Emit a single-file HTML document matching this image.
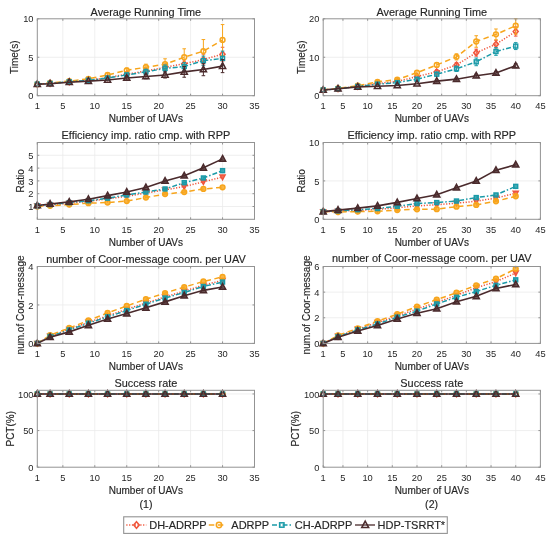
<!DOCTYPE html>
<html><head><meta charset="utf-8"><style>
html,body{margin:0;padding:0;background:#fff;}
body{width:550px;height:541px;overflow:hidden;}
svg{display:block;font-family:"Liberation Sans", sans-serif;filter:blur(0.3px);}
text{stroke:#262626;stroke-width:0.15px;}
text.t{stroke:none;}
</style></head><body>
<svg width="550" height="541" viewBox="0 0 550 541">
<rect width="550" height="541" fill="#fff"/>
<path d="M62.85 18.8V95.7M94.79 18.8V95.7M126.74 18.8V95.7M158.68 18.8V95.7M190.62 18.8V95.7M222.56 18.8V95.7M37.3 57.25H254.5" stroke="#ebebeb" stroke-width="0.8" fill="none"/>
<polyline points="37.3,84.17 50.08,83.4 69.24,81.86 88.41,80.32 107.57,77.63 126.74,74.17 145.9,71.09 165.06,67.25 184.23,63.79 203.39,59.56 222.56,54.17" fill="none" stroke="#f0553b" stroke-width="1.5" stroke-dasharray="1.2 1.6"/>
<path d="M126.74 72.25V76.09M124.94 72.25h3.6M124.94 76.09h3.6M145.9 68.78V73.4M144.1 68.78h3.6M144.1 73.4h3.6M165.06 64.17V70.32M163.26 64.17h3.6M163.26 70.32h3.6M184.23 59.94V67.63M182.43 59.94h3.6M182.43 67.63h3.6M203.39 54.17V64.94M201.59 54.17h3.6M201.59 64.94h3.6M222.56 47.25V61.09M220.76 47.25h3.6M220.76 61.09h3.6" stroke="#f0553b" stroke-width="1" fill="none"/>
<path d="M37.3 81.27L39.8 84.17L37.3 87.07L34.8 84.17Z" fill="none" stroke="#f0553b" stroke-width="1.5"/>
<path d="M50.08 80.5L52.58 83.4L50.08 86.3L47.58 83.4Z" fill="none" stroke="#f0553b" stroke-width="1.5"/>
<path d="M69.24 78.96L71.74 81.86L69.24 84.76L66.74 81.86Z" fill="none" stroke="#f0553b" stroke-width="1.5"/>
<path d="M88.41 77.42L90.91 80.32L88.41 83.22L85.91 80.32Z" fill="none" stroke="#f0553b" stroke-width="1.5"/>
<path d="M107.57 74.73L110.07 77.63L107.57 80.53L105.07 77.63Z" fill="none" stroke="#f0553b" stroke-width="1.5"/>
<path d="M126.74 71.27L129.24 74.17L126.74 77.07L124.24 74.17Z" fill="none" stroke="#f0553b" stroke-width="1.5"/>
<path d="M145.9 68.19L148.4 71.09L145.9 73.99L143.4 71.09Z" fill="none" stroke="#f0553b" stroke-width="1.5"/>
<path d="M165.06 64.35L167.56 67.25L165.06 70.15L162.56 67.25Z" fill="none" stroke="#f0553b" stroke-width="1.5"/>
<path d="M184.23 60.89L186.73 63.79L184.23 66.69L181.73 63.79Z" fill="none" stroke="#f0553b" stroke-width="1.5"/>
<path d="M203.39 56.66L205.89 59.56L203.39 62.46L200.89 59.56Z" fill="none" stroke="#f0553b" stroke-width="1.5"/>
<path d="M222.56 51.27L225.06 54.17L222.56 57.07L220.06 54.17Z" fill="none" stroke="#f0553b" stroke-width="1.5"/>
<polyline points="37.3,84.17 50.08,83.01 69.24,81.09 88.41,78.78 107.57,74.94 126.74,70.32 145.9,67.25 165.06,64.17 184.23,57.25 203.39,51.1 222.56,39.95" fill="none" stroke="#f7a51c" stroke-width="1.5" stroke-dasharray="5.5 3.5"/>
<path d="M107.57 73.01V76.86M105.77 73.01h3.6M105.77 76.86h3.6M126.74 68.02V72.63M124.94 68.02h3.6M124.94 72.63h3.6M145.9 64.17V70.32M144.1 64.17h3.6M144.1 70.32h3.6M165.06 58.79V69.55M163.26 58.79h3.6M163.26 69.55h3.6M184.23 48.79V65.71M182.43 48.79h3.6M182.43 65.71h3.6M203.39 39.56V62.63M201.59 39.56h3.6M201.59 62.63h3.6M222.56 24.57V55.33M220.76 24.57h3.6M220.76 55.33h3.6" stroke="#f7a51c" stroke-width="1" fill="none"/>
<circle cx="37.3" cy="84.17" r="2.4" fill="none" stroke="#f7a51c" stroke-width="1.5"/>
<circle cx="50.08" cy="83.01" r="2.4" fill="none" stroke="#f7a51c" stroke-width="1.5"/>
<circle cx="69.24" cy="81.09" r="2.4" fill="none" stroke="#f7a51c" stroke-width="1.5"/>
<circle cx="88.41" cy="78.78" r="2.4" fill="none" stroke="#f7a51c" stroke-width="1.5"/>
<circle cx="107.57" cy="74.94" r="2.4" fill="none" stroke="#f7a51c" stroke-width="1.5"/>
<circle cx="126.74" cy="70.32" r="2.4" fill="none" stroke="#f7a51c" stroke-width="1.5"/>
<circle cx="145.9" cy="67.25" r="2.4" fill="none" stroke="#f7a51c" stroke-width="1.5"/>
<circle cx="165.06" cy="64.17" r="2.4" fill="none" stroke="#f7a51c" stroke-width="1.5"/>
<circle cx="184.23" cy="57.25" r="2.4" fill="none" stroke="#f7a51c" stroke-width="1.5"/>
<circle cx="203.39" cy="51.1" r="2.4" fill="none" stroke="#f7a51c" stroke-width="1.5"/>
<circle cx="222.56" cy="39.95" r="2.4" fill="none" stroke="#f7a51c" stroke-width="1.5"/>
<polyline points="37.3,84.17 50.08,83.4 69.24,81.86 88.41,80.32 107.57,78.01 126.74,74.94 145.9,71.86 165.06,68.4 184.23,66.48 203.39,60.71 222.56,58.4" fill="none" stroke="#1a9aa8" stroke-width="1.5" stroke-dasharray="5 2 1.5 2"/>
<path d="M126.74 73.01V76.86M124.94 73.01h3.6M124.94 76.86h3.6M145.9 69.17V74.55M144.1 69.17h3.6M144.1 74.55h3.6M165.06 64.94V71.86M163.26 64.94h3.6M163.26 71.86h3.6M184.23 62.63V70.32M182.43 62.63h3.6M182.43 70.32h3.6M203.39 56.1V65.32M201.59 56.1h3.6M201.59 65.32h3.6M222.56 51.1V65.71M220.76 51.1h3.6M220.76 65.71h3.6" stroke="#1a9aa8" stroke-width="1" fill="none"/>
<rect x="35.35" y="82.22" width="3.9" height="3.9" fill="none" stroke="#1a9aa8" stroke-width="1.5"/>
<rect x="48.13" y="81.45" width="3.9" height="3.9" fill="none" stroke="#1a9aa8" stroke-width="1.5"/>
<rect x="67.29" y="79.91" width="3.9" height="3.9" fill="none" stroke="#1a9aa8" stroke-width="1.5"/>
<rect x="86.46" y="78.37" width="3.9" height="3.9" fill="none" stroke="#1a9aa8" stroke-width="1.5"/>
<rect x="105.62" y="76.06" width="3.9" height="3.9" fill="none" stroke="#1a9aa8" stroke-width="1.5"/>
<rect x="124.79" y="72.99" width="3.9" height="3.9" fill="none" stroke="#1a9aa8" stroke-width="1.5"/>
<rect x="143.95" y="69.91" width="3.9" height="3.9" fill="none" stroke="#1a9aa8" stroke-width="1.5"/>
<rect x="163.11" y="66.45" width="3.9" height="3.9" fill="none" stroke="#1a9aa8" stroke-width="1.5"/>
<rect x="182.28" y="64.53" width="3.9" height="3.9" fill="none" stroke="#1a9aa8" stroke-width="1.5"/>
<rect x="201.44" y="58.76" width="3.9" height="3.9" fill="none" stroke="#1a9aa8" stroke-width="1.5"/>
<rect x="220.61" y="56.45" width="3.9" height="3.9" fill="none" stroke="#1a9aa8" stroke-width="1.5"/>
<polyline points="37.3,84.17 50.08,83.78 69.24,82.24 88.41,81.09 107.57,79.94 126.74,78.01 145.9,76.47 165.06,74.94 184.23,71.86 203.39,69.55 222.56,66.09" fill="none" stroke="#4a2a2c" stroke-width="1.6"/>
<path d="M126.74 76.09V79.94M124.94 76.09h3.6M124.94 79.94h3.6M145.9 74.17V78.78M144.1 74.17h3.6M144.1 78.78h3.6M165.06 71.86V78.01M163.26 71.86h3.6M163.26 78.01h3.6M184.23 66.48V77.24M182.43 66.48h3.6M182.43 77.24h3.6M203.39 63.4V75.71M201.59 63.4h3.6M201.59 75.71h3.6M222.56 59.56V72.63M220.76 59.56h3.6M220.76 72.63h3.6" stroke="#4a2a2c" stroke-width="1" fill="none"/>
<path d="M37.3 80.77L40.4 86.47L34.2 86.47Z" fill="none" stroke="#4a2a2c" stroke-width="1.5" stroke-linejoin="miter"/>
<path d="M50.08 80.38L53.18 86.08L46.98 86.08Z" fill="none" stroke="#4a2a2c" stroke-width="1.5" stroke-linejoin="miter"/>
<path d="M69.24 78.84L72.34 84.54L66.14 84.54Z" fill="none" stroke="#4a2a2c" stroke-width="1.5" stroke-linejoin="miter"/>
<path d="M88.41 77.69L91.51 83.39L85.31 83.39Z" fill="none" stroke="#4a2a2c" stroke-width="1.5" stroke-linejoin="miter"/>
<path d="M107.57 76.54L110.67 82.24L104.47 82.24Z" fill="none" stroke="#4a2a2c" stroke-width="1.5" stroke-linejoin="miter"/>
<path d="M126.74 74.61L129.84 80.31L123.64 80.31Z" fill="none" stroke="#4a2a2c" stroke-width="1.5" stroke-linejoin="miter"/>
<path d="M145.9 73.07L149 78.77L142.8 78.77Z" fill="none" stroke="#4a2a2c" stroke-width="1.5" stroke-linejoin="miter"/>
<path d="M165.06 71.54L168.16 77.24L161.96 77.24Z" fill="none" stroke="#4a2a2c" stroke-width="1.5" stroke-linejoin="miter"/>
<path d="M184.23 68.46L187.33 74.16L181.13 74.16Z" fill="none" stroke="#4a2a2c" stroke-width="1.5" stroke-linejoin="miter"/>
<path d="M203.39 66.15L206.49 71.85L200.29 71.85Z" fill="none" stroke="#4a2a2c" stroke-width="1.5" stroke-linejoin="miter"/>
<path d="M222.56 62.69L225.66 68.39L219.46 68.39Z" fill="none" stroke="#4a2a2c" stroke-width="1.5" stroke-linejoin="miter"/>
<rect x="37.3" y="18.8" width="217.2" height="76.9" fill="none" stroke="#939393" stroke-width="1.0"/>
<path d="M37.3 95.7v-2M37.3 18.8v2M62.85 95.7v-2M62.85 18.8v2M94.79 95.7v-2M94.79 18.8v2M126.74 95.7v-2M126.74 18.8v2M158.68 95.7v-2M158.68 18.8v2M190.62 95.7v-2M190.62 18.8v2M222.56 95.7v-2M222.56 18.8v2M254.5 95.7v-2M254.5 18.8v2M37.3 95.7h2M254.5 95.7h-2M37.3 57.25h2M254.5 57.25h-2M37.3 18.8h2M254.5 18.8h-2" stroke="#939393" stroke-width="1" fill="none"/>
<text class="t" x="37.3" y="109.3" font-size="9.3" text-anchor="middle" fill="#262626">1</text>
<text class="t" x="62.85" y="109.3" font-size="9.3" text-anchor="middle" fill="#262626">5</text>
<text class="t" x="94.79" y="109.3" font-size="9.3" text-anchor="middle" fill="#262626">10</text>
<text class="t" x="126.74" y="109.3" font-size="9.3" text-anchor="middle" fill="#262626">15</text>
<text class="t" x="158.68" y="109.3" font-size="9.3" text-anchor="middle" fill="#262626">20</text>
<text class="t" x="190.62" y="109.3" font-size="9.3" text-anchor="middle" fill="#262626">25</text>
<text class="t" x="222.56" y="109.3" font-size="9.3" text-anchor="middle" fill="#262626">30</text>
<text class="t" x="254.5" y="109.3" font-size="9.3" text-anchor="middle" fill="#262626">35</text>
<text class="t" x="33.5" y="99.3" font-size="9.3" text-anchor="end" fill="#262626">0</text>
<text class="t" x="33.5" y="60.85" font-size="9.3" text-anchor="end" fill="#262626">5</text>
<text class="t" x="33.5" y="22.4" font-size="9.3" text-anchor="end" fill="#262626">10</text>
<text x="145.9" y="15.6" font-size="10.9" text-anchor="middle" fill="#262626">Average Running Time</text>
<text x="145.9" y="122.3" font-size="10" text-anchor="middle" fill="#262626">Number of UAVs</text>
<text x="18.4" y="57.25" font-size="10" text-anchor="middle" fill="#262626" transform="rotate(-90 18.4 57.25)">Time(s)</text>
<path d="M342.95 18.8V95.7M367.63 18.8V95.7M392.31 18.8V95.7M416.99 18.8V95.7M441.67 18.8V95.7M466.35 18.8V95.7M491.04 18.8V95.7M515.72 18.8V95.7M323.2 57.25H540.4" stroke="#ebebeb" stroke-width="0.8" fill="none"/>
<polyline points="323.2,89.93 338.01,88.78 357.75,86.47 377.5,83.4 397.25,81.47 416.99,76.47 436.74,71.86 456.48,64.94 476.23,52.64 495.97,44.18 515.72,31.49" fill="none" stroke="#f0553b" stroke-width="1.5" stroke-dasharray="1.2 1.6"/>
<path d="M397.25 80.32V82.63M395.45 80.32h3.6M395.45 82.63h3.6M416.99 74.94V78.01M415.19 74.94h3.6M415.19 78.01h3.6M436.74 69.94V73.78M434.94 69.94h3.6M434.94 73.78h3.6M456.48 62.63V67.25M454.68 62.63h3.6M454.68 67.25h3.6M476.23 49.18V56.1M474.43 49.18h3.6M474.43 56.1h3.6M495.97 40.33V48.02M494.17 40.33h3.6M494.17 48.02h3.6M515.72 26.87V36.1M513.92 26.87h3.6M513.92 36.1h3.6" stroke="#f0553b" stroke-width="1" fill="none"/>
<path d="M323.2 87.03L325.7 89.93L323.2 92.83L320.7 89.93Z" fill="none" stroke="#f0553b" stroke-width="1.5"/>
<path d="M338.01 85.88L340.51 88.78L338.01 91.68L335.51 88.78Z" fill="none" stroke="#f0553b" stroke-width="1.5"/>
<path d="M357.75 83.57L360.25 86.47L357.75 89.37L355.25 86.47Z" fill="none" stroke="#f0553b" stroke-width="1.5"/>
<path d="M377.5 80.5L380 83.4L377.5 86.3L375 83.4Z" fill="none" stroke="#f0553b" stroke-width="1.5"/>
<path d="M397.25 78.57L399.75 81.47L397.25 84.37L394.75 81.47Z" fill="none" stroke="#f0553b" stroke-width="1.5"/>
<path d="M416.99 73.57L419.49 76.47L416.99 79.38L414.49 76.47Z" fill="none" stroke="#f0553b" stroke-width="1.5"/>
<path d="M436.74 68.96L439.24 71.86L436.74 74.76L434.24 71.86Z" fill="none" stroke="#f0553b" stroke-width="1.5"/>
<path d="M456.48 62.04L458.98 64.94L456.48 67.84L453.98 64.94Z" fill="none" stroke="#f0553b" stroke-width="1.5"/>
<path d="M476.23 49.74L478.73 52.64L476.23 55.54L473.73 52.64Z" fill="none" stroke="#f0553b" stroke-width="1.5"/>
<path d="M495.97 41.28L498.47 44.18L495.97 47.08L493.47 44.18Z" fill="none" stroke="#f0553b" stroke-width="1.5"/>
<path d="M515.72 28.59L518.22 31.49L515.72 34.39L513.22 31.49Z" fill="none" stroke="#f0553b" stroke-width="1.5"/>
<polyline points="323.2,89.93 338.01,88.39 357.75,85.7 377.5,81.86 397.25,79.55 416.99,72.63 436.74,64.94 456.48,56.87 476.23,41.49 495.97,34.37 515.72,25.72" fill="none" stroke="#f7a51c" stroke-width="1.5" stroke-dasharray="5.5 3.5"/>
<path d="M377.5 80.7V83.01M375.7 80.7h3.6M375.7 83.01h3.6M397.25 78.01V81.09M395.45 78.01h3.6M395.45 81.09h3.6M416.99 70.71V74.55M415.19 70.71h3.6M415.19 74.55h3.6M436.74 62.63V67.25M434.94 62.63h3.6M434.94 67.25h3.6M456.48 53.79V59.94M454.68 53.79h3.6M454.68 59.94h3.6M476.23 35.72V47.25M474.43 35.72h3.6M474.43 47.25h3.6M495.97 28.99V39.76M494.17 28.99h3.6M494.17 39.76h3.6M515.72 18.8V34.18M513.92 18.8h3.6M513.92 34.18h3.6" stroke="#f7a51c" stroke-width="1" fill="none"/>
<circle cx="323.2" cy="89.93" r="2.4" fill="none" stroke="#f7a51c" stroke-width="1.5"/>
<circle cx="338.01" cy="88.39" r="2.4" fill="none" stroke="#f7a51c" stroke-width="1.5"/>
<circle cx="357.75" cy="85.7" r="2.4" fill="none" stroke="#f7a51c" stroke-width="1.5"/>
<circle cx="377.5" cy="81.86" r="2.4" fill="none" stroke="#f7a51c" stroke-width="1.5"/>
<circle cx="397.25" cy="79.55" r="2.4" fill="none" stroke="#f7a51c" stroke-width="1.5"/>
<circle cx="416.99" cy="72.63" r="2.4" fill="none" stroke="#f7a51c" stroke-width="1.5"/>
<circle cx="436.74" cy="64.94" r="2.4" fill="none" stroke="#f7a51c" stroke-width="1.5"/>
<circle cx="456.48" cy="56.87" r="2.4" fill="none" stroke="#f7a51c" stroke-width="1.5"/>
<circle cx="476.23" cy="41.49" r="2.4" fill="none" stroke="#f7a51c" stroke-width="1.5"/>
<circle cx="495.97" cy="34.37" r="2.4" fill="none" stroke="#f7a51c" stroke-width="1.5"/>
<circle cx="515.72" cy="25.72" r="2.4" fill="none" stroke="#f7a51c" stroke-width="1.5"/>
<polyline points="323.2,89.93 338.01,88.78 357.75,86.47 377.5,84.17 397.25,82.63 416.99,79.17 436.74,74.17 456.48,68.78 476.23,61.86 495.97,51.48 515.72,46.1" fill="none" stroke="#1a9aa8" stroke-width="1.5" stroke-dasharray="5 2 1.5 2"/>
<path d="M397.25 81.47V83.78M395.45 81.47h3.6M395.45 83.78h3.6M416.99 77.63V80.7M415.19 77.63h3.6M415.19 80.7h3.6M436.74 72.25V76.09M434.94 72.25h3.6M434.94 76.09h3.6M456.48 66.09V71.48M454.68 66.09h3.6M454.68 71.48h3.6M476.23 58.02V65.71M474.43 58.02h3.6M474.43 65.71h3.6M495.97 47.64V55.33M494.17 47.64h3.6M494.17 55.33h3.6M515.72 42.64V49.56M513.92 42.64h3.6M513.92 49.56h3.6" stroke="#1a9aa8" stroke-width="1" fill="none"/>
<rect x="321.25" y="87.98" width="3.9" height="3.9" fill="none" stroke="#1a9aa8" stroke-width="1.5"/>
<rect x="336.06" y="86.83" width="3.9" height="3.9" fill="none" stroke="#1a9aa8" stroke-width="1.5"/>
<rect x="355.8" y="84.52" width="3.9" height="3.9" fill="none" stroke="#1a9aa8" stroke-width="1.5"/>
<rect x="375.55" y="82.22" width="3.9" height="3.9" fill="none" stroke="#1a9aa8" stroke-width="1.5"/>
<rect x="395.3" y="80.68" width="3.9" height="3.9" fill="none" stroke="#1a9aa8" stroke-width="1.5"/>
<rect x="415.04" y="77.22" width="3.9" height="3.9" fill="none" stroke="#1a9aa8" stroke-width="1.5"/>
<rect x="434.79" y="72.22" width="3.9" height="3.9" fill="none" stroke="#1a9aa8" stroke-width="1.5"/>
<rect x="454.53" y="66.83" width="3.9" height="3.9" fill="none" stroke="#1a9aa8" stroke-width="1.5"/>
<rect x="474.28" y="59.91" width="3.9" height="3.9" fill="none" stroke="#1a9aa8" stroke-width="1.5"/>
<rect x="494.02" y="49.53" width="3.9" height="3.9" fill="none" stroke="#1a9aa8" stroke-width="1.5"/>
<rect x="513.77" y="44.15" width="3.9" height="3.9" fill="none" stroke="#1a9aa8" stroke-width="1.5"/>
<polyline points="323.2,89.93 338.01,88.78 357.75,86.86 377.5,86.28 397.25,85.51 416.99,83.78 436.74,81.09 456.48,79.17 476.23,75.71 495.97,73.01 515.72,65.71" fill="none" stroke="#4a2a2c" stroke-width="1.6"/>
<path d="M436.74 79.94V82.24M434.94 79.94h3.6M434.94 82.24h3.6M456.48 78.01V80.32M454.68 78.01h3.6M454.68 80.32h3.6M476.23 74.17V77.24M474.43 74.17h3.6M474.43 77.24h3.6M495.97 71.48V74.55M494.17 71.48h3.6M494.17 74.55h3.6M515.72 63.79V67.63M513.92 63.79h3.6M513.92 67.63h3.6" stroke="#4a2a2c" stroke-width="1" fill="none"/>
<path d="M323.2 86.53L326.3 92.23L320.1 92.23Z" fill="none" stroke="#4a2a2c" stroke-width="1.5" stroke-linejoin="miter"/>
<path d="M338.01 85.38L341.11 91.08L334.91 91.08Z" fill="none" stroke="#4a2a2c" stroke-width="1.5" stroke-linejoin="miter"/>
<path d="M357.75 83.46L360.85 89.16L354.65 89.16Z" fill="none" stroke="#4a2a2c" stroke-width="1.5" stroke-linejoin="miter"/>
<path d="M377.5 82.88L380.6 88.58L374.4 88.58Z" fill="none" stroke="#4a2a2c" stroke-width="1.5" stroke-linejoin="miter"/>
<path d="M397.25 82.11L400.35 87.81L394.15 87.81Z" fill="none" stroke="#4a2a2c" stroke-width="1.5" stroke-linejoin="miter"/>
<path d="M416.99 80.38L420.09 86.08L413.89 86.08Z" fill="none" stroke="#4a2a2c" stroke-width="1.5" stroke-linejoin="miter"/>
<path d="M436.74 77.69L439.84 83.39L433.64 83.39Z" fill="none" stroke="#4a2a2c" stroke-width="1.5" stroke-linejoin="miter"/>
<path d="M456.48 75.77L459.58 81.47L453.38 81.47Z" fill="none" stroke="#4a2a2c" stroke-width="1.5" stroke-linejoin="miter"/>
<path d="M476.23 72.31L479.33 78.01L473.13 78.01Z" fill="none" stroke="#4a2a2c" stroke-width="1.5" stroke-linejoin="miter"/>
<path d="M495.97 69.61L499.07 75.31L492.87 75.31Z" fill="none" stroke="#4a2a2c" stroke-width="1.5" stroke-linejoin="miter"/>
<path d="M515.72 62.31L518.82 68.01L512.62 68.01Z" fill="none" stroke="#4a2a2c" stroke-width="1.5" stroke-linejoin="miter"/>
<rect x="323.2" y="18.8" width="217.2" height="76.9" fill="none" stroke="#939393" stroke-width="1.0"/>
<path d="M323.2 95.7v-2M323.2 18.8v2M342.95 95.7v-2M342.95 18.8v2M367.63 95.7v-2M367.63 18.8v2M392.31 95.7v-2M392.31 18.8v2M416.99 95.7v-2M416.99 18.8v2M441.67 95.7v-2M441.67 18.8v2M466.35 95.7v-2M466.35 18.8v2M491.04 95.7v-2M491.04 18.8v2M515.72 95.7v-2M515.72 18.8v2M540.4 95.7v-2M540.4 18.8v2M323.2 95.7h2M540.4 95.7h-2M323.2 57.25h2M540.4 57.25h-2M323.2 18.8h2M540.4 18.8h-2" stroke="#939393" stroke-width="1" fill="none"/>
<text class="t" x="323.2" y="109.3" font-size="9.3" text-anchor="middle" fill="#262626">1</text>
<text class="t" x="342.95" y="109.3" font-size="9.3" text-anchor="middle" fill="#262626">5</text>
<text class="t" x="367.63" y="109.3" font-size="9.3" text-anchor="middle" fill="#262626">10</text>
<text class="t" x="392.31" y="109.3" font-size="9.3" text-anchor="middle" fill="#262626">15</text>
<text class="t" x="416.99" y="109.3" font-size="9.3" text-anchor="middle" fill="#262626">20</text>
<text class="t" x="441.67" y="109.3" font-size="9.3" text-anchor="middle" fill="#262626">25</text>
<text class="t" x="466.35" y="109.3" font-size="9.3" text-anchor="middle" fill="#262626">30</text>
<text class="t" x="491.04" y="109.3" font-size="9.3" text-anchor="middle" fill="#262626">35</text>
<text class="t" x="515.72" y="109.3" font-size="9.3" text-anchor="middle" fill="#262626">40</text>
<text class="t" x="540.4" y="109.3" font-size="9.3" text-anchor="middle" fill="#262626">45</text>
<text class="t" x="319.4" y="99.3" font-size="9.3" text-anchor="end" fill="#262626">0</text>
<text class="t" x="319.4" y="60.85" font-size="9.3" text-anchor="end" fill="#262626">10</text>
<text class="t" x="319.4" y="22.4" font-size="9.3" text-anchor="end" fill="#262626">20</text>
<text x="431.8" y="15.6" font-size="10.9" text-anchor="middle" fill="#262626">Average Running Time</text>
<text x="431.8" y="122.3" font-size="10" text-anchor="middle" fill="#262626">Number of UAVs</text>
<text x="304.6" y="57.25" font-size="10" text-anchor="middle" fill="#262626" transform="rotate(-90 304.6 57.25)">Time(s)</text>
<path d="M62.85 142.5V219.3M94.79 142.5V219.3M126.74 142.5V219.3M158.68 142.5V219.3M190.62 142.5V219.3M222.56 142.5V219.3M37.3 206.5H254.5M37.3 193.7H254.5M37.3 180.9H254.5M37.3 168.1H254.5M37.3 155.3H254.5" stroke="#ebebeb" stroke-width="0.8" fill="none"/>
<polyline points="37.3,205.86 50.08,204.96 69.24,203.3 88.41,201.38 107.57,198.82 126.74,196.26 145.9,193.06 165.06,189.86 184.23,186.53 203.39,181.8 222.56,177.06" fill="none" stroke="#f0553b" stroke-width="1.5" stroke-dasharray="1.2 1.6"/>
<path d="M37.3 208.46L39.8 203.91L34.8 203.91Z" fill="#f0553b" fill-opacity="0.8" stroke="#f0553b" stroke-width="1.5"/>
<path d="M50.08 207.56L52.58 203.01L47.58 203.01Z" fill="#f0553b" fill-opacity="0.8" stroke="#f0553b" stroke-width="1.5"/>
<path d="M69.24 205.9L71.74 201.35L66.74 201.35Z" fill="#f0553b" fill-opacity="0.8" stroke="#f0553b" stroke-width="1.5"/>
<path d="M88.41 203.98L90.91 199.43L85.91 199.43Z" fill="#f0553b" fill-opacity="0.8" stroke="#f0553b" stroke-width="1.5"/>
<path d="M107.57 201.42L110.07 196.87L105.07 196.87Z" fill="#f0553b" fill-opacity="0.8" stroke="#f0553b" stroke-width="1.5"/>
<path d="M126.74 198.86L129.24 194.31L124.24 194.31Z" fill="#f0553b" fill-opacity="0.8" stroke="#f0553b" stroke-width="1.5"/>
<path d="M145.9 195.66L148.4 191.11L143.4 191.11Z" fill="#f0553b" fill-opacity="0.8" stroke="#f0553b" stroke-width="1.5"/>
<path d="M165.06 192.46L167.56 187.91L162.56 187.91Z" fill="#f0553b" fill-opacity="0.8" stroke="#f0553b" stroke-width="1.5"/>
<path d="M184.23 189.13L186.73 184.58L181.73 184.58Z" fill="#f0553b" fill-opacity="0.8" stroke="#f0553b" stroke-width="1.5"/>
<path d="M203.39 184.4L205.89 179.85L200.89 179.85Z" fill="#f0553b" fill-opacity="0.8" stroke="#f0553b" stroke-width="1.5"/>
<path d="M222.56 179.66L225.06 175.11L220.06 175.11Z" fill="#f0553b" fill-opacity="0.8" stroke="#f0553b" stroke-width="1.5"/>
<polyline points="37.3,206.5 50.08,205.86 69.24,204.58 88.41,203.17 107.57,202.53 126.74,201.12 145.9,197.54 165.06,194.08 184.23,192.04 203.39,188.96 222.56,187.3" fill="none" stroke="#f7a51c" stroke-width="1.5" stroke-dasharray="5.5 3.5"/>
<circle cx="37.3" cy="206.5" r="2.4" fill="#f7a51c" fill-opacity="0.8" stroke="#f7a51c" stroke-width="1.5"/>
<circle cx="50.08" cy="205.86" r="2.4" fill="#f7a51c" fill-opacity="0.8" stroke="#f7a51c" stroke-width="1.5"/>
<circle cx="69.24" cy="204.58" r="2.4" fill="#f7a51c" fill-opacity="0.8" stroke="#f7a51c" stroke-width="1.5"/>
<circle cx="88.41" cy="203.17" r="2.4" fill="#f7a51c" fill-opacity="0.8" stroke="#f7a51c" stroke-width="1.5"/>
<circle cx="107.57" cy="202.53" r="2.4" fill="#f7a51c" fill-opacity="0.8" stroke="#f7a51c" stroke-width="1.5"/>
<circle cx="126.74" cy="201.12" r="2.4" fill="#f7a51c" fill-opacity="0.8" stroke="#f7a51c" stroke-width="1.5"/>
<circle cx="145.9" cy="197.54" r="2.4" fill="#f7a51c" fill-opacity="0.8" stroke="#f7a51c" stroke-width="1.5"/>
<circle cx="165.06" cy="194.08" r="2.4" fill="#f7a51c" fill-opacity="0.8" stroke="#f7a51c" stroke-width="1.5"/>
<circle cx="184.23" cy="192.04" r="2.4" fill="#f7a51c" fill-opacity="0.8" stroke="#f7a51c" stroke-width="1.5"/>
<circle cx="203.39" cy="188.96" r="2.4" fill="#f7a51c" fill-opacity="0.8" stroke="#f7a51c" stroke-width="1.5"/>
<circle cx="222.56" cy="187.3" r="2.4" fill="#f7a51c" fill-opacity="0.8" stroke="#f7a51c" stroke-width="1.5"/>
<polyline points="37.3,205.86 50.08,204.58 69.24,202.66 88.41,200.74 107.57,198.18 126.74,194.98 145.9,192.04 165.06,188.96 184.23,182.69 203.39,177.96 222.56,170.66" fill="none" stroke="#1a9aa8" stroke-width="1.5" stroke-dasharray="5 2 1.5 2"/>
<rect x="35.35" y="203.91" width="3.9" height="3.9" fill="#1a9aa8" fill-opacity="0.8" stroke="#1a9aa8" stroke-width="1.5"/>
<rect x="48.13" y="202.63" width="3.9" height="3.9" fill="#1a9aa8" fill-opacity="0.8" stroke="#1a9aa8" stroke-width="1.5"/>
<rect x="67.29" y="200.71" width="3.9" height="3.9" fill="#1a9aa8" fill-opacity="0.8" stroke="#1a9aa8" stroke-width="1.5"/>
<rect x="86.46" y="198.79" width="3.9" height="3.9" fill="#1a9aa8" fill-opacity="0.8" stroke="#1a9aa8" stroke-width="1.5"/>
<rect x="105.62" y="196.23" width="3.9" height="3.9" fill="#1a9aa8" fill-opacity="0.8" stroke="#1a9aa8" stroke-width="1.5"/>
<rect x="124.79" y="193.03" width="3.9" height="3.9" fill="#1a9aa8" fill-opacity="0.8" stroke="#1a9aa8" stroke-width="1.5"/>
<rect x="143.95" y="190.09" width="3.9" height="3.9" fill="#1a9aa8" fill-opacity="0.8" stroke="#1a9aa8" stroke-width="1.5"/>
<rect x="163.11" y="187.01" width="3.9" height="3.9" fill="#1a9aa8" fill-opacity="0.8" stroke="#1a9aa8" stroke-width="1.5"/>
<rect x="182.28" y="180.74" width="3.9" height="3.9" fill="#1a9aa8" fill-opacity="0.8" stroke="#1a9aa8" stroke-width="1.5"/>
<rect x="201.44" y="176.01" width="3.9" height="3.9" fill="#1a9aa8" fill-opacity="0.8" stroke="#1a9aa8" stroke-width="1.5"/>
<rect x="220.61" y="168.71" width="3.9" height="3.9" fill="#1a9aa8" fill-opacity="0.8" stroke="#1a9aa8" stroke-width="1.5"/>
<polyline points="37.3,205.48 50.08,203.94 69.24,201.89 88.41,199.2 107.57,195.62 126.74,192.04 145.9,187.56 165.06,180.9 184.23,175.78 203.39,167.84 222.56,158.88" fill="none" stroke="#4a2a2c" stroke-width="1.6"/>
<path d="M37.3 202.08L40.4 207.78L34.2 207.78Z" fill="#4a2a2c" fill-opacity="0.8" stroke="#4a2a2c" stroke-width="1.5" stroke-linejoin="miter"/>
<path d="M50.08 200.54L53.18 206.24L46.98 206.24Z" fill="#4a2a2c" fill-opacity="0.8" stroke="#4a2a2c" stroke-width="1.5" stroke-linejoin="miter"/>
<path d="M69.24 198.49L72.34 204.19L66.14 204.19Z" fill="#4a2a2c" fill-opacity="0.8" stroke="#4a2a2c" stroke-width="1.5" stroke-linejoin="miter"/>
<path d="M88.41 195.8L91.51 201.5L85.31 201.5Z" fill="#4a2a2c" fill-opacity="0.8" stroke="#4a2a2c" stroke-width="1.5" stroke-linejoin="miter"/>
<path d="M107.57 192.22L110.67 197.92L104.47 197.92Z" fill="#4a2a2c" fill-opacity="0.8" stroke="#4a2a2c" stroke-width="1.5" stroke-linejoin="miter"/>
<path d="M126.74 188.64L129.84 194.34L123.64 194.34Z" fill="#4a2a2c" fill-opacity="0.8" stroke="#4a2a2c" stroke-width="1.5" stroke-linejoin="miter"/>
<path d="M145.9 184.16L149 189.86L142.8 189.86Z" fill="#4a2a2c" fill-opacity="0.8" stroke="#4a2a2c" stroke-width="1.5" stroke-linejoin="miter"/>
<path d="M165.06 177.5L168.16 183.2L161.96 183.2Z" fill="#4a2a2c" fill-opacity="0.8" stroke="#4a2a2c" stroke-width="1.5" stroke-linejoin="miter"/>
<path d="M184.23 172.38L187.33 178.08L181.13 178.08Z" fill="#4a2a2c" fill-opacity="0.8" stroke="#4a2a2c" stroke-width="1.5" stroke-linejoin="miter"/>
<path d="M203.39 164.44L206.49 170.14L200.29 170.14Z" fill="#4a2a2c" fill-opacity="0.8" stroke="#4a2a2c" stroke-width="1.5" stroke-linejoin="miter"/>
<path d="M222.56 155.48L225.66 161.18L219.46 161.18Z" fill="#4a2a2c" fill-opacity="0.8" stroke="#4a2a2c" stroke-width="1.5" stroke-linejoin="miter"/>
<rect x="37.3" y="142.5" width="217.2" height="76.8" fill="none" stroke="#939393" stroke-width="1.0"/>
<path d="M37.3 219.3v-2M37.3 142.5v2M62.85 219.3v-2M62.85 142.5v2M94.79 219.3v-2M94.79 142.5v2M126.74 219.3v-2M126.74 142.5v2M158.68 219.3v-2M158.68 142.5v2M190.62 219.3v-2M190.62 142.5v2M222.56 219.3v-2M222.56 142.5v2M254.5 219.3v-2M254.5 142.5v2M37.3 206.5h2M254.5 206.5h-2M37.3 193.7h2M254.5 193.7h-2M37.3 180.9h2M254.5 180.9h-2M37.3 168.1h2M254.5 168.1h-2M37.3 155.3h2M254.5 155.3h-2" stroke="#939393" stroke-width="1" fill="none"/>
<text class="t" x="37.3" y="232.9" font-size="9.3" text-anchor="middle" fill="#262626">1</text>
<text class="t" x="62.85" y="232.9" font-size="9.3" text-anchor="middle" fill="#262626">5</text>
<text class="t" x="94.79" y="232.9" font-size="9.3" text-anchor="middle" fill="#262626">10</text>
<text class="t" x="126.74" y="232.9" font-size="9.3" text-anchor="middle" fill="#262626">15</text>
<text class="t" x="158.68" y="232.9" font-size="9.3" text-anchor="middle" fill="#262626">20</text>
<text class="t" x="190.62" y="232.9" font-size="9.3" text-anchor="middle" fill="#262626">25</text>
<text class="t" x="222.56" y="232.9" font-size="9.3" text-anchor="middle" fill="#262626">30</text>
<text class="t" x="254.5" y="232.9" font-size="9.3" text-anchor="middle" fill="#262626">35</text>
<text class="t" x="33.5" y="210.1" font-size="9.3" text-anchor="end" fill="#262626">1</text>
<text class="t" x="33.5" y="197.3" font-size="9.3" text-anchor="end" fill="#262626">2</text>
<text class="t" x="33.5" y="184.5" font-size="9.3" text-anchor="end" fill="#262626">3</text>
<text class="t" x="33.5" y="171.7" font-size="9.3" text-anchor="end" fill="#262626">4</text>
<text class="t" x="33.5" y="158.9" font-size="9.3" text-anchor="end" fill="#262626">5</text>
<text x="145.9" y="139.3" font-size="10.9" text-anchor="middle" fill="#262626">Efficiency imp. ratio cmp. with RPP</text>
<text x="145.9" y="245.9" font-size="10" text-anchor="middle" fill="#262626">Number of UAVs</text>
<text x="24" y="180.9" font-size="10" text-anchor="middle" fill="#262626" transform="rotate(-90 24 180.9)">Ratio</text>
<path d="M342.95 142.5V219.3M367.63 142.5V219.3M392.31 142.5V219.3M416.99 142.5V219.3M441.67 142.5V219.3M466.35 142.5V219.3M491.04 142.5V219.3M515.72 142.5V219.3M323.2 180.9H540.4" stroke="#ebebeb" stroke-width="0.8" fill="none"/>
<polyline points="323.2,211.62 338.01,211.24 357.75,210.47 377.5,209.32 397.25,207.78 416.99,205.86 436.74,204.71 456.48,203.17 476.23,201.25 495.97,198.03 515.72,193.19" fill="none" stroke="#f0553b" stroke-width="1.5" stroke-dasharray="1.2 1.6"/>
<path d="M323.2 214.22L325.7 209.67L320.7 209.67Z" fill="#f0553b" fill-opacity="0.8" stroke="#f0553b" stroke-width="1.5"/>
<path d="M338.01 213.84L340.51 209.29L335.51 209.29Z" fill="#f0553b" fill-opacity="0.8" stroke="#f0553b" stroke-width="1.5"/>
<path d="M357.75 213.07L360.25 208.52L355.25 208.52Z" fill="#f0553b" fill-opacity="0.8" stroke="#f0553b" stroke-width="1.5"/>
<path d="M377.5 211.92L380 207.37L375 207.37Z" fill="#f0553b" fill-opacity="0.8" stroke="#f0553b" stroke-width="1.5"/>
<path d="M397.25 210.38L399.75 205.83L394.75 205.83Z" fill="#f0553b" fill-opacity="0.8" stroke="#f0553b" stroke-width="1.5"/>
<path d="M416.99 208.46L419.49 203.91L414.49 203.91Z" fill="#f0553b" fill-opacity="0.8" stroke="#f0553b" stroke-width="1.5"/>
<path d="M436.74 207.31L439.24 202.76L434.24 202.76Z" fill="#f0553b" fill-opacity="0.8" stroke="#f0553b" stroke-width="1.5"/>
<path d="M456.48 205.77L458.98 201.22L453.98 201.22Z" fill="#f0553b" fill-opacity="0.8" stroke="#f0553b" stroke-width="1.5"/>
<path d="M476.23 203.85L478.73 199.3L473.73 199.3Z" fill="#f0553b" fill-opacity="0.8" stroke="#f0553b" stroke-width="1.5"/>
<path d="M495.97 200.63L498.47 196.08L493.47 196.08Z" fill="#f0553b" fill-opacity="0.8" stroke="#f0553b" stroke-width="1.5"/>
<path d="M515.72 195.79L518.22 191.24L513.22 191.24Z" fill="#f0553b" fill-opacity="0.8" stroke="#f0553b" stroke-width="1.5"/>
<polyline points="323.2,211.62 338.01,212 357.75,211.62 377.5,211.24 397.25,210.08 416.99,209.32 436.74,209.16 456.48,206.63 476.23,204.94 495.97,201.25 515.72,196.26" fill="none" stroke="#f7a51c" stroke-width="1.5" stroke-dasharray="5.5 3.5"/>
<circle cx="323.2" cy="211.62" r="2.4" fill="#f7a51c" fill-opacity="0.8" stroke="#f7a51c" stroke-width="1.5"/>
<circle cx="338.01" cy="212" r="2.4" fill="#f7a51c" fill-opacity="0.8" stroke="#f7a51c" stroke-width="1.5"/>
<circle cx="357.75" cy="211.62" r="2.4" fill="#f7a51c" fill-opacity="0.8" stroke="#f7a51c" stroke-width="1.5"/>
<circle cx="377.5" cy="211.24" r="2.4" fill="#f7a51c" fill-opacity="0.8" stroke="#f7a51c" stroke-width="1.5"/>
<circle cx="397.25" cy="210.08" r="2.4" fill="#f7a51c" fill-opacity="0.8" stroke="#f7a51c" stroke-width="1.5"/>
<circle cx="416.99" cy="209.32" r="2.4" fill="#f7a51c" fill-opacity="0.8" stroke="#f7a51c" stroke-width="1.5"/>
<circle cx="436.74" cy="209.16" r="2.4" fill="#f7a51c" fill-opacity="0.8" stroke="#f7a51c" stroke-width="1.5"/>
<circle cx="456.48" cy="206.63" r="2.4" fill="#f7a51c" fill-opacity="0.8" stroke="#f7a51c" stroke-width="1.5"/>
<circle cx="476.23" cy="204.94" r="2.4" fill="#f7a51c" fill-opacity="0.8" stroke="#f7a51c" stroke-width="1.5"/>
<circle cx="495.97" cy="201.25" r="2.4" fill="#f7a51c" fill-opacity="0.8" stroke="#f7a51c" stroke-width="1.5"/>
<circle cx="515.72" cy="196.26" r="2.4" fill="#f7a51c" fill-opacity="0.8" stroke="#f7a51c" stroke-width="1.5"/>
<polyline points="323.2,211.62 338.01,210.85 357.75,209.7 377.5,208.55 397.25,206.24 416.99,203.56 436.74,202.56 456.48,201.02 476.23,197.57 495.97,194.95 515.72,186.35" fill="none" stroke="#1a9aa8" stroke-width="1.5" stroke-dasharray="5 2 1.5 2"/>
<rect x="321.25" y="209.67" width="3.9" height="3.9" fill="#1a9aa8" fill-opacity="0.8" stroke="#1a9aa8" stroke-width="1.5"/>
<rect x="336.06" y="208.9" width="3.9" height="3.9" fill="#1a9aa8" fill-opacity="0.8" stroke="#1a9aa8" stroke-width="1.5"/>
<rect x="355.8" y="207.75" width="3.9" height="3.9" fill="#1a9aa8" fill-opacity="0.8" stroke="#1a9aa8" stroke-width="1.5"/>
<rect x="375.55" y="206.6" width="3.9" height="3.9" fill="#1a9aa8" fill-opacity="0.8" stroke="#1a9aa8" stroke-width="1.5"/>
<rect x="395.3" y="204.29" width="3.9" height="3.9" fill="#1a9aa8" fill-opacity="0.8" stroke="#1a9aa8" stroke-width="1.5"/>
<rect x="415.04" y="201.61" width="3.9" height="3.9" fill="#1a9aa8" fill-opacity="0.8" stroke="#1a9aa8" stroke-width="1.5"/>
<rect x="434.79" y="200.61" width="3.9" height="3.9" fill="#1a9aa8" fill-opacity="0.8" stroke="#1a9aa8" stroke-width="1.5"/>
<rect x="454.53" y="199.07" width="3.9" height="3.9" fill="#1a9aa8" fill-opacity="0.8" stroke="#1a9aa8" stroke-width="1.5"/>
<rect x="474.28" y="195.62" width="3.9" height="3.9" fill="#1a9aa8" fill-opacity="0.8" stroke="#1a9aa8" stroke-width="1.5"/>
<rect x="494.02" y="193" width="3.9" height="3.9" fill="#1a9aa8" fill-opacity="0.8" stroke="#1a9aa8" stroke-width="1.5"/>
<rect x="513.77" y="184.4" width="3.9" height="3.9" fill="#1a9aa8" fill-opacity="0.8" stroke="#1a9aa8" stroke-width="1.5"/>
<polyline points="323.2,211.62 338.01,210.08 357.75,208.16 377.5,205.86 397.25,202.4 416.99,198.56 436.74,194.72 456.48,187.81 476.23,180.9 495.97,170.15 515.72,164.77" fill="none" stroke="#4a2a2c" stroke-width="1.6"/>
<path d="M323.2 208.22L326.3 213.92L320.1 213.92Z" fill="#4a2a2c" fill-opacity="0.8" stroke="#4a2a2c" stroke-width="1.5" stroke-linejoin="miter"/>
<path d="M338.01 206.68L341.11 212.38L334.91 212.38Z" fill="#4a2a2c" fill-opacity="0.8" stroke="#4a2a2c" stroke-width="1.5" stroke-linejoin="miter"/>
<path d="M357.75 204.76L360.85 210.46L354.65 210.46Z" fill="#4a2a2c" fill-opacity="0.8" stroke="#4a2a2c" stroke-width="1.5" stroke-linejoin="miter"/>
<path d="M377.5 202.46L380.6 208.16L374.4 208.16Z" fill="#4a2a2c" fill-opacity="0.8" stroke="#4a2a2c" stroke-width="1.5" stroke-linejoin="miter"/>
<path d="M397.25 199L400.35 204.7L394.15 204.7Z" fill="#4a2a2c" fill-opacity="0.8" stroke="#4a2a2c" stroke-width="1.5" stroke-linejoin="miter"/>
<path d="M416.99 195.16L420.09 200.86L413.89 200.86Z" fill="#4a2a2c" fill-opacity="0.8" stroke="#4a2a2c" stroke-width="1.5" stroke-linejoin="miter"/>
<path d="M436.74 191.32L439.84 197.02L433.64 197.02Z" fill="#4a2a2c" fill-opacity="0.8" stroke="#4a2a2c" stroke-width="1.5" stroke-linejoin="miter"/>
<path d="M456.48 184.41L459.58 190.11L453.38 190.11Z" fill="#4a2a2c" fill-opacity="0.8" stroke="#4a2a2c" stroke-width="1.5" stroke-linejoin="miter"/>
<path d="M476.23 177.5L479.33 183.2L473.13 183.2Z" fill="#4a2a2c" fill-opacity="0.8" stroke="#4a2a2c" stroke-width="1.5" stroke-linejoin="miter"/>
<path d="M495.97 166.75L499.07 172.45L492.87 172.45Z" fill="#4a2a2c" fill-opacity="0.8" stroke="#4a2a2c" stroke-width="1.5" stroke-linejoin="miter"/>
<path d="M515.72 161.37L518.82 167.07L512.62 167.07Z" fill="#4a2a2c" fill-opacity="0.8" stroke="#4a2a2c" stroke-width="1.5" stroke-linejoin="miter"/>
<rect x="323.2" y="142.5" width="217.2" height="76.8" fill="none" stroke="#939393" stroke-width="1.0"/>
<path d="M323.2 219.3v-2M323.2 142.5v2M342.95 219.3v-2M342.95 142.5v2M367.63 219.3v-2M367.63 142.5v2M392.31 219.3v-2M392.31 142.5v2M416.99 219.3v-2M416.99 142.5v2M441.67 219.3v-2M441.67 142.5v2M466.35 219.3v-2M466.35 142.5v2M491.04 219.3v-2M491.04 142.5v2M515.72 219.3v-2M515.72 142.5v2M540.4 219.3v-2M540.4 142.5v2M323.2 219.3h2M540.4 219.3h-2M323.2 180.9h2M540.4 180.9h-2M323.2 142.5h2M540.4 142.5h-2" stroke="#939393" stroke-width="1" fill="none"/>
<text class="t" x="323.2" y="232.9" font-size="9.3" text-anchor="middle" fill="#262626">1</text>
<text class="t" x="342.95" y="232.9" font-size="9.3" text-anchor="middle" fill="#262626">5</text>
<text class="t" x="367.63" y="232.9" font-size="9.3" text-anchor="middle" fill="#262626">10</text>
<text class="t" x="392.31" y="232.9" font-size="9.3" text-anchor="middle" fill="#262626">15</text>
<text class="t" x="416.99" y="232.9" font-size="9.3" text-anchor="middle" fill="#262626">20</text>
<text class="t" x="441.67" y="232.9" font-size="9.3" text-anchor="middle" fill="#262626">25</text>
<text class="t" x="466.35" y="232.9" font-size="9.3" text-anchor="middle" fill="#262626">30</text>
<text class="t" x="491.04" y="232.9" font-size="9.3" text-anchor="middle" fill="#262626">35</text>
<text class="t" x="515.72" y="232.9" font-size="9.3" text-anchor="middle" fill="#262626">40</text>
<text class="t" x="540.4" y="232.9" font-size="9.3" text-anchor="middle" fill="#262626">45</text>
<text class="t" x="319.4" y="222.9" font-size="9.3" text-anchor="end" fill="#262626">0</text>
<text class="t" x="319.4" y="184.5" font-size="9.3" text-anchor="end" fill="#262626">5</text>
<text class="t" x="319.4" y="146.1" font-size="9.3" text-anchor="end" fill="#262626">10</text>
<text x="431.8" y="139.3" font-size="10.9" text-anchor="middle" fill="#262626">Efficiency imp. ratio cmp. with RPP</text>
<text x="431.8" y="245.9" font-size="10" text-anchor="middle" fill="#262626">Number of UAVs</text>
<text x="304.6" y="180.9" font-size="10" text-anchor="middle" fill="#262626" transform="rotate(-90 304.6 180.9)">Ratio</text>
<path d="M62.85 266.5V343.4M94.79 266.5V343.4M126.74 266.5V343.4M158.68 266.5V343.4M190.62 266.5V343.4M222.56 266.5V343.4M37.3 304.95H254.5" stroke="#ebebeb" stroke-width="0.8" fill="none"/>
<polyline points="37.3,343.4 50.08,336.09 69.24,329.37 88.41,322.25 107.57,315.91 126.74,309.18 145.9,303.03 165.06,296.88 184.23,291.11 203.39,285.15 222.56,280.34" fill="none" stroke="#f0553b" stroke-width="1.5" stroke-dasharray="1.2 1.6"/>
<path d="M37.3 346L39.8 341.45L34.8 341.45Z" fill="#f0553b" fill-opacity="0.8" stroke="#f0553b" stroke-width="1.5"/>
<path d="M50.08 338.69L52.58 334.14L47.58 334.14Z" fill="#f0553b" fill-opacity="0.8" stroke="#f0553b" stroke-width="1.5"/>
<path d="M69.24 331.97L71.74 327.42L66.74 327.42Z" fill="#f0553b" fill-opacity="0.8" stroke="#f0553b" stroke-width="1.5"/>
<path d="M88.41 324.85L90.91 320.3L85.91 320.3Z" fill="#f0553b" fill-opacity="0.8" stroke="#f0553b" stroke-width="1.5"/>
<path d="M107.57 318.51L110.07 313.96L105.07 313.96Z" fill="#f0553b" fill-opacity="0.8" stroke="#f0553b" stroke-width="1.5"/>
<path d="M126.74 311.78L129.24 307.23L124.24 307.23Z" fill="#f0553b" fill-opacity="0.8" stroke="#f0553b" stroke-width="1.5"/>
<path d="M145.9 305.63L148.4 301.08L143.4 301.08Z" fill="#f0553b" fill-opacity="0.8" stroke="#f0553b" stroke-width="1.5"/>
<path d="M165.06 299.48L167.56 294.93L162.56 294.93Z" fill="#f0553b" fill-opacity="0.8" stroke="#f0553b" stroke-width="1.5"/>
<path d="M184.23 293.71L186.73 289.16L181.73 289.16Z" fill="#f0553b" fill-opacity="0.8" stroke="#f0553b" stroke-width="1.5"/>
<path d="M203.39 287.75L205.89 283.2L200.89 283.2Z" fill="#f0553b" fill-opacity="0.8" stroke="#f0553b" stroke-width="1.5"/>
<path d="M222.56 282.94L225.06 278.39L220.06 278.39Z" fill="#f0553b" fill-opacity="0.8" stroke="#f0553b" stroke-width="1.5"/>
<polyline points="37.3,343.4 50.08,335.13 69.24,328.02 88.41,320.52 107.57,313.02 126.74,305.91 145.9,299.18 165.06,293.03 184.23,287.07 203.39,281.5 222.56,276.88" fill="none" stroke="#f7a51c" stroke-width="1.5" stroke-dasharray="5.5 3.5"/>
<circle cx="37.3" cy="343.4" r="2.4" fill="#f7a51c" fill-opacity="0.8" stroke="#f7a51c" stroke-width="1.5"/>
<circle cx="50.08" cy="335.13" r="2.4" fill="#f7a51c" fill-opacity="0.8" stroke="#f7a51c" stroke-width="1.5"/>
<circle cx="69.24" cy="328.02" r="2.4" fill="#f7a51c" fill-opacity="0.8" stroke="#f7a51c" stroke-width="1.5"/>
<circle cx="88.41" cy="320.52" r="2.4" fill="#f7a51c" fill-opacity="0.8" stroke="#f7a51c" stroke-width="1.5"/>
<circle cx="107.57" cy="313.02" r="2.4" fill="#f7a51c" fill-opacity="0.8" stroke="#f7a51c" stroke-width="1.5"/>
<circle cx="126.74" cy="305.91" r="2.4" fill="#f7a51c" fill-opacity="0.8" stroke="#f7a51c" stroke-width="1.5"/>
<circle cx="145.9" cy="299.18" r="2.4" fill="#f7a51c" fill-opacity="0.8" stroke="#f7a51c" stroke-width="1.5"/>
<circle cx="165.06" cy="293.03" r="2.4" fill="#f7a51c" fill-opacity="0.8" stroke="#f7a51c" stroke-width="1.5"/>
<circle cx="184.23" cy="287.07" r="2.4" fill="#f7a51c" fill-opacity="0.8" stroke="#f7a51c" stroke-width="1.5"/>
<circle cx="203.39" cy="281.5" r="2.4" fill="#f7a51c" fill-opacity="0.8" stroke="#f7a51c" stroke-width="1.5"/>
<circle cx="222.56" cy="276.88" r="2.4" fill="#f7a51c" fill-opacity="0.8" stroke="#f7a51c" stroke-width="1.5"/>
<polyline points="37.3,343.4 50.08,336.48 69.24,329.94 88.41,323.21 107.57,316.87 126.74,310.53 145.9,304.18 165.06,298.03 184.23,292.45 203.39,286.49 222.56,282.07" fill="none" stroke="#1a9aa8" stroke-width="1.5" stroke-dasharray="5 2 1.5 2"/>
<rect x="35.35" y="341.45" width="3.9" height="3.9" fill="#1a9aa8" fill-opacity="0.8" stroke="#1a9aa8" stroke-width="1.5"/>
<rect x="48.13" y="334.53" width="3.9" height="3.9" fill="#1a9aa8" fill-opacity="0.8" stroke="#1a9aa8" stroke-width="1.5"/>
<rect x="67.29" y="327.99" width="3.9" height="3.9" fill="#1a9aa8" fill-opacity="0.8" stroke="#1a9aa8" stroke-width="1.5"/>
<rect x="86.46" y="321.26" width="3.9" height="3.9" fill="#1a9aa8" fill-opacity="0.8" stroke="#1a9aa8" stroke-width="1.5"/>
<rect x="105.62" y="314.92" width="3.9" height="3.9" fill="#1a9aa8" fill-opacity="0.8" stroke="#1a9aa8" stroke-width="1.5"/>
<rect x="124.79" y="308.58" width="3.9" height="3.9" fill="#1a9aa8" fill-opacity="0.8" stroke="#1a9aa8" stroke-width="1.5"/>
<rect x="143.95" y="302.23" width="3.9" height="3.9" fill="#1a9aa8" fill-opacity="0.8" stroke="#1a9aa8" stroke-width="1.5"/>
<rect x="163.11" y="296.08" width="3.9" height="3.9" fill="#1a9aa8" fill-opacity="0.8" stroke="#1a9aa8" stroke-width="1.5"/>
<rect x="182.28" y="290.5" width="3.9" height="3.9" fill="#1a9aa8" fill-opacity="0.8" stroke="#1a9aa8" stroke-width="1.5"/>
<rect x="201.44" y="284.54" width="3.9" height="3.9" fill="#1a9aa8" fill-opacity="0.8" stroke="#1a9aa8" stroke-width="1.5"/>
<rect x="220.61" y="280.12" width="3.9" height="3.9" fill="#1a9aa8" fill-opacity="0.8" stroke="#1a9aa8" stroke-width="1.5"/>
<polyline points="37.3,343.4 50.08,337.25 69.24,331.87 88.41,325.33 107.57,318.98 126.74,313.6 145.9,307.83 165.06,301.87 184.23,295.72 203.39,290.34 222.56,287.07" fill="none" stroke="#4a2a2c" stroke-width="1.6"/>
<path d="M37.3 340L40.4 345.7L34.2 345.7Z" fill="#4a2a2c" fill-opacity="0.8" stroke="#4a2a2c" stroke-width="1.5" stroke-linejoin="miter"/>
<path d="M50.08 333.85L53.18 339.55L46.98 339.55Z" fill="#4a2a2c" fill-opacity="0.8" stroke="#4a2a2c" stroke-width="1.5" stroke-linejoin="miter"/>
<path d="M69.24 328.47L72.34 334.17L66.14 334.17Z" fill="#4a2a2c" fill-opacity="0.8" stroke="#4a2a2c" stroke-width="1.5" stroke-linejoin="miter"/>
<path d="M88.41 321.93L91.51 327.63L85.31 327.63Z" fill="#4a2a2c" fill-opacity="0.8" stroke="#4a2a2c" stroke-width="1.5" stroke-linejoin="miter"/>
<path d="M107.57 315.58L110.67 321.28L104.47 321.28Z" fill="#4a2a2c" fill-opacity="0.8" stroke="#4a2a2c" stroke-width="1.5" stroke-linejoin="miter"/>
<path d="M126.74 310.2L129.84 315.9L123.64 315.9Z" fill="#4a2a2c" fill-opacity="0.8" stroke="#4a2a2c" stroke-width="1.5" stroke-linejoin="miter"/>
<path d="M145.9 304.43L149 310.13L142.8 310.13Z" fill="#4a2a2c" fill-opacity="0.8" stroke="#4a2a2c" stroke-width="1.5" stroke-linejoin="miter"/>
<path d="M165.06 298.47L168.16 304.17L161.96 304.17Z" fill="#4a2a2c" fill-opacity="0.8" stroke="#4a2a2c" stroke-width="1.5" stroke-linejoin="miter"/>
<path d="M184.23 292.32L187.33 298.02L181.13 298.02Z" fill="#4a2a2c" fill-opacity="0.8" stroke="#4a2a2c" stroke-width="1.5" stroke-linejoin="miter"/>
<path d="M203.39 286.94L206.49 292.64L200.29 292.64Z" fill="#4a2a2c" fill-opacity="0.8" stroke="#4a2a2c" stroke-width="1.5" stroke-linejoin="miter"/>
<path d="M222.56 283.67L225.66 289.37L219.46 289.37Z" fill="#4a2a2c" fill-opacity="0.8" stroke="#4a2a2c" stroke-width="1.5" stroke-linejoin="miter"/>
<rect x="37.3" y="266.5" width="217.2" height="76.9" fill="none" stroke="#939393" stroke-width="1.0"/>
<path d="M37.3 343.4v-2M37.3 266.5v2M62.85 343.4v-2M62.85 266.5v2M94.79 343.4v-2M94.79 266.5v2M126.74 343.4v-2M126.74 266.5v2M158.68 343.4v-2M158.68 266.5v2M190.62 343.4v-2M190.62 266.5v2M222.56 343.4v-2M222.56 266.5v2M254.5 343.4v-2M254.5 266.5v2M37.3 343.4h2M254.5 343.4h-2M37.3 304.95h2M254.5 304.95h-2M37.3 266.5h2M254.5 266.5h-2" stroke="#939393" stroke-width="1" fill="none"/>
<text class="t" x="37.3" y="357" font-size="9.3" text-anchor="middle" fill="#262626">1</text>
<text class="t" x="62.85" y="357" font-size="9.3" text-anchor="middle" fill="#262626">5</text>
<text class="t" x="94.79" y="357" font-size="9.3" text-anchor="middle" fill="#262626">10</text>
<text class="t" x="126.74" y="357" font-size="9.3" text-anchor="middle" fill="#262626">15</text>
<text class="t" x="158.68" y="357" font-size="9.3" text-anchor="middle" fill="#262626">20</text>
<text class="t" x="190.62" y="357" font-size="9.3" text-anchor="middle" fill="#262626">25</text>
<text class="t" x="222.56" y="357" font-size="9.3" text-anchor="middle" fill="#262626">30</text>
<text class="t" x="254.5" y="357" font-size="9.3" text-anchor="middle" fill="#262626">35</text>
<text class="t" x="33.5" y="347" font-size="9.3" text-anchor="end" fill="#262626">0</text>
<text class="t" x="33.5" y="308.55" font-size="9.3" text-anchor="end" fill="#262626">2</text>
<text class="t" x="33.5" y="270.1" font-size="9.3" text-anchor="end" fill="#262626">4</text>
<text x="145.9" y="263.3" font-size="10.9" text-anchor="middle" fill="#262626">number of Coor-message coom. per UAV</text>
<text x="145.9" y="370" font-size="10" text-anchor="middle" fill="#262626">Number of UAVs</text>
<text x="23.6" y="304.95" font-size="10" text-anchor="middle" fill="#262626" transform="rotate(-90 23.6 304.95)">num.of Coor-message</text>
<path d="M342.95 266.5V343.4M367.63 266.5V343.4M392.31 266.5V343.4M416.99 266.5V343.4M441.67 266.5V343.4M466.35 266.5V343.4M491.04 266.5V343.4M515.72 266.5V343.4M323.2 317.77H540.4M323.2 292.13H540.4" stroke="#ebebeb" stroke-width="0.8" fill="none"/>
<polyline points="323.2,343.4 338.01,336.22 357.75,329.3 377.5,322.51 397.25,315.84 416.99,309.05 436.74,302.39 456.48,295.34 476.23,287.78 495.97,281.62 515.72,273.04" fill="none" stroke="#f0553b" stroke-width="1.5" stroke-dasharray="1.2 1.6"/>
<path d="M323.2 346L325.7 341.45L320.7 341.45Z" fill="#f0553b" fill-opacity="0.8" stroke="#f0553b" stroke-width="1.5"/>
<path d="M338.01 338.82L340.51 334.27L335.51 334.27Z" fill="#f0553b" fill-opacity="0.8" stroke="#f0553b" stroke-width="1.5"/>
<path d="M357.75 331.9L360.25 327.35L355.25 327.35Z" fill="#f0553b" fill-opacity="0.8" stroke="#f0553b" stroke-width="1.5"/>
<path d="M377.5 325.11L380 320.56L375 320.56Z" fill="#f0553b" fill-opacity="0.8" stroke="#f0553b" stroke-width="1.5"/>
<path d="M397.25 318.44L399.75 313.89L394.75 313.89Z" fill="#f0553b" fill-opacity="0.8" stroke="#f0553b" stroke-width="1.5"/>
<path d="M416.99 311.65L419.49 307.1L414.49 307.1Z" fill="#f0553b" fill-opacity="0.8" stroke="#f0553b" stroke-width="1.5"/>
<path d="M436.74 304.99L439.24 300.44L434.24 300.44Z" fill="#f0553b" fill-opacity="0.8" stroke="#f0553b" stroke-width="1.5"/>
<path d="M456.48 297.94L458.98 293.39L453.98 293.39Z" fill="#f0553b" fill-opacity="0.8" stroke="#f0553b" stroke-width="1.5"/>
<path d="M476.23 290.38L478.73 285.83L473.73 285.83Z" fill="#f0553b" fill-opacity="0.8" stroke="#f0553b" stroke-width="1.5"/>
<path d="M495.97 284.22L498.47 279.67L493.47 279.67Z" fill="#f0553b" fill-opacity="0.8" stroke="#f0553b" stroke-width="1.5"/>
<path d="M515.72 275.64L518.22 271.09L513.22 271.09Z" fill="#f0553b" fill-opacity="0.8" stroke="#f0553b" stroke-width="1.5"/>
<polyline points="323.2,343.4 338.01,335.45 357.75,328.28 377.5,321.1 397.25,314.18 416.99,306.62 436.74,299.57 456.48,292.77 476.23,285.34 495.97,278.68 515.72,268.81" fill="none" stroke="#f7a51c" stroke-width="1.5" stroke-dasharray="5.5 3.5"/>
<circle cx="323.2" cy="343.4" r="2.4" fill="#f7a51c" fill-opacity="0.8" stroke="#f7a51c" stroke-width="1.5"/>
<circle cx="338.01" cy="335.45" r="2.4" fill="#f7a51c" fill-opacity="0.8" stroke="#f7a51c" stroke-width="1.5"/>
<circle cx="357.75" cy="328.28" r="2.4" fill="#f7a51c" fill-opacity="0.8" stroke="#f7a51c" stroke-width="1.5"/>
<circle cx="377.5" cy="321.1" r="2.4" fill="#f7a51c" fill-opacity="0.8" stroke="#f7a51c" stroke-width="1.5"/>
<circle cx="397.25" cy="314.18" r="2.4" fill="#f7a51c" fill-opacity="0.8" stroke="#f7a51c" stroke-width="1.5"/>
<circle cx="416.99" cy="306.62" r="2.4" fill="#f7a51c" fill-opacity="0.8" stroke="#f7a51c" stroke-width="1.5"/>
<circle cx="436.74" cy="299.57" r="2.4" fill="#f7a51c" fill-opacity="0.8" stroke="#f7a51c" stroke-width="1.5"/>
<circle cx="456.48" cy="292.77" r="2.4" fill="#f7a51c" fill-opacity="0.8" stroke="#f7a51c" stroke-width="1.5"/>
<circle cx="476.23" cy="285.34" r="2.4" fill="#f7a51c" fill-opacity="0.8" stroke="#f7a51c" stroke-width="1.5"/>
<circle cx="495.97" cy="278.68" r="2.4" fill="#f7a51c" fill-opacity="0.8" stroke="#f7a51c" stroke-width="1.5"/>
<circle cx="515.72" cy="268.81" r="2.4" fill="#f7a51c" fill-opacity="0.8" stroke="#f7a51c" stroke-width="1.5"/>
<polyline points="323.2,343.4 338.01,336.74 357.75,329.94 377.5,323.92 397.25,317.13 416.99,311.1 436.74,303.92 456.48,297.26 476.23,291.49 495.97,285.34 515.72,279.83" fill="none" stroke="#1a9aa8" stroke-width="1.5" stroke-dasharray="5 2 1.5 2"/>
<rect x="321.25" y="341.45" width="3.9" height="3.9" fill="#1a9aa8" fill-opacity="0.8" stroke="#1a9aa8" stroke-width="1.5"/>
<rect x="336.06" y="334.79" width="3.9" height="3.9" fill="#1a9aa8" fill-opacity="0.8" stroke="#1a9aa8" stroke-width="1.5"/>
<rect x="355.8" y="327.99" width="3.9" height="3.9" fill="#1a9aa8" fill-opacity="0.8" stroke="#1a9aa8" stroke-width="1.5"/>
<rect x="375.55" y="321.97" width="3.9" height="3.9" fill="#1a9aa8" fill-opacity="0.8" stroke="#1a9aa8" stroke-width="1.5"/>
<rect x="395.3" y="315.18" width="3.9" height="3.9" fill="#1a9aa8" fill-opacity="0.8" stroke="#1a9aa8" stroke-width="1.5"/>
<rect x="415.04" y="309.15" width="3.9" height="3.9" fill="#1a9aa8" fill-opacity="0.8" stroke="#1a9aa8" stroke-width="1.5"/>
<rect x="434.79" y="301.97" width="3.9" height="3.9" fill="#1a9aa8" fill-opacity="0.8" stroke="#1a9aa8" stroke-width="1.5"/>
<rect x="454.53" y="295.31" width="3.9" height="3.9" fill="#1a9aa8" fill-opacity="0.8" stroke="#1a9aa8" stroke-width="1.5"/>
<rect x="474.28" y="289.54" width="3.9" height="3.9" fill="#1a9aa8" fill-opacity="0.8" stroke="#1a9aa8" stroke-width="1.5"/>
<rect x="494.02" y="283.39" width="3.9" height="3.9" fill="#1a9aa8" fill-opacity="0.8" stroke="#1a9aa8" stroke-width="1.5"/>
<rect x="513.77" y="277.88" width="3.9" height="3.9" fill="#1a9aa8" fill-opacity="0.8" stroke="#1a9aa8" stroke-width="1.5"/>
<polyline points="323.2,343.4 338.01,337.25 357.75,330.97 377.5,325.46 397.25,319.05 416.99,313.28 436.74,308.79 456.48,301.75 476.23,296.36 495.97,288.54 515.72,284.44" fill="none" stroke="#4a2a2c" stroke-width="1.6"/>
<path d="M323.2 340L326.3 345.7L320.1 345.7Z" fill="#4a2a2c" fill-opacity="0.8" stroke="#4a2a2c" stroke-width="1.5" stroke-linejoin="miter"/>
<path d="M338.01 333.85L341.11 339.55L334.91 339.55Z" fill="#4a2a2c" fill-opacity="0.8" stroke="#4a2a2c" stroke-width="1.5" stroke-linejoin="miter"/>
<path d="M357.75 327.57L360.85 333.27L354.65 333.27Z" fill="#4a2a2c" fill-opacity="0.8" stroke="#4a2a2c" stroke-width="1.5" stroke-linejoin="miter"/>
<path d="M377.5 322.06L380.6 327.76L374.4 327.76Z" fill="#4a2a2c" fill-opacity="0.8" stroke="#4a2a2c" stroke-width="1.5" stroke-linejoin="miter"/>
<path d="M397.25 315.65L400.35 321.35L394.15 321.35Z" fill="#4a2a2c" fill-opacity="0.8" stroke="#4a2a2c" stroke-width="1.5" stroke-linejoin="miter"/>
<path d="M416.99 309.88L420.09 315.58L413.89 315.58Z" fill="#4a2a2c" fill-opacity="0.8" stroke="#4a2a2c" stroke-width="1.5" stroke-linejoin="miter"/>
<path d="M436.74 305.39L439.84 311.09L433.64 311.09Z" fill="#4a2a2c" fill-opacity="0.8" stroke="#4a2a2c" stroke-width="1.5" stroke-linejoin="miter"/>
<path d="M456.48 298.35L459.58 304.05L453.38 304.05Z" fill="#4a2a2c" fill-opacity="0.8" stroke="#4a2a2c" stroke-width="1.5" stroke-linejoin="miter"/>
<path d="M476.23 292.96L479.33 298.66L473.13 298.66Z" fill="#4a2a2c" fill-opacity="0.8" stroke="#4a2a2c" stroke-width="1.5" stroke-linejoin="miter"/>
<path d="M495.97 285.14L499.07 290.84L492.87 290.84Z" fill="#4a2a2c" fill-opacity="0.8" stroke="#4a2a2c" stroke-width="1.5" stroke-linejoin="miter"/>
<path d="M515.72 281.04L518.82 286.74L512.62 286.74Z" fill="#4a2a2c" fill-opacity="0.8" stroke="#4a2a2c" stroke-width="1.5" stroke-linejoin="miter"/>
<rect x="323.2" y="266.5" width="217.2" height="76.9" fill="none" stroke="#939393" stroke-width="1.0"/>
<path d="M323.2 343.4v-2M323.2 266.5v2M342.95 343.4v-2M342.95 266.5v2M367.63 343.4v-2M367.63 266.5v2M392.31 343.4v-2M392.31 266.5v2M416.99 343.4v-2M416.99 266.5v2M441.67 343.4v-2M441.67 266.5v2M466.35 343.4v-2M466.35 266.5v2M491.04 343.4v-2M491.04 266.5v2M515.72 343.4v-2M515.72 266.5v2M540.4 343.4v-2M540.4 266.5v2M323.2 343.4h2M540.4 343.4h-2M323.2 317.77h2M540.4 317.77h-2M323.2 292.13h2M540.4 292.13h-2M323.2 266.5h2M540.4 266.5h-2" stroke="#939393" stroke-width="1" fill="none"/>
<text class="t" x="323.2" y="357" font-size="9.3" text-anchor="middle" fill="#262626">1</text>
<text class="t" x="342.95" y="357" font-size="9.3" text-anchor="middle" fill="#262626">5</text>
<text class="t" x="367.63" y="357" font-size="9.3" text-anchor="middle" fill="#262626">10</text>
<text class="t" x="392.31" y="357" font-size="9.3" text-anchor="middle" fill="#262626">15</text>
<text class="t" x="416.99" y="357" font-size="9.3" text-anchor="middle" fill="#262626">20</text>
<text class="t" x="441.67" y="357" font-size="9.3" text-anchor="middle" fill="#262626">25</text>
<text class="t" x="466.35" y="357" font-size="9.3" text-anchor="middle" fill="#262626">30</text>
<text class="t" x="491.04" y="357" font-size="9.3" text-anchor="middle" fill="#262626">35</text>
<text class="t" x="515.72" y="357" font-size="9.3" text-anchor="middle" fill="#262626">40</text>
<text class="t" x="540.4" y="357" font-size="9.3" text-anchor="middle" fill="#262626">45</text>
<text class="t" x="319.4" y="347" font-size="9.3" text-anchor="end" fill="#262626">0</text>
<text class="t" x="319.4" y="321.37" font-size="9.3" text-anchor="end" fill="#262626">2</text>
<text class="t" x="319.4" y="295.73" font-size="9.3" text-anchor="end" fill="#262626">4</text>
<text class="t" x="319.4" y="270.1" font-size="9.3" text-anchor="end" fill="#262626">6</text>
<text x="431.8" y="262" font-size="10.9" text-anchor="middle" fill="#262626">number of Coor-message coom. per UAV</text>
<text x="431.8" y="370" font-size="10" text-anchor="middle" fill="#262626">Number of UAVs</text>
<text x="310" y="304.95" font-size="10" text-anchor="middle" fill="#262626" transform="rotate(-90 310 304.95)">num.of Coor-message</text>
<path d="M62.85 390.3V467.2M94.79 390.3V467.2M126.74 390.3V467.2M158.68 390.3V467.2M190.62 390.3V467.2M222.56 390.3V467.2M37.3 430.58H254.5M37.3 393.96H254.5" stroke="#ebebeb" stroke-width="0.8" fill="none"/>
<polyline points="37.3,393.96 50.08,393.96 69.24,393.96 88.41,393.96 107.57,393.96 126.74,393.96 145.9,393.96 165.06,393.96 184.23,393.96 203.39,393.96 222.56,393.96" fill="none" stroke="#f0553b" stroke-width="1.5" stroke-dasharray="1.2 1.6"/>
<path d="M37.3 391.06L39.8 393.96L37.3 396.86L34.8 393.96Z" fill="none" stroke="#f0553b" stroke-width="1.5"/>
<path d="M50.08 391.06L52.58 393.96L50.08 396.86L47.58 393.96Z" fill="none" stroke="#f0553b" stroke-width="1.5"/>
<path d="M69.24 391.06L71.74 393.96L69.24 396.86L66.74 393.96Z" fill="none" stroke="#f0553b" stroke-width="1.5"/>
<path d="M88.41 391.06L90.91 393.96L88.41 396.86L85.91 393.96Z" fill="none" stroke="#f0553b" stroke-width="1.5"/>
<path d="M107.57 391.06L110.07 393.96L107.57 396.86L105.07 393.96Z" fill="none" stroke="#f0553b" stroke-width="1.5"/>
<path d="M126.74 391.06L129.24 393.96L126.74 396.86L124.24 393.96Z" fill="none" stroke="#f0553b" stroke-width="1.5"/>
<path d="M145.9 391.06L148.4 393.96L145.9 396.86L143.4 393.96Z" fill="none" stroke="#f0553b" stroke-width="1.5"/>
<path d="M165.06 391.06L167.56 393.96L165.06 396.86L162.56 393.96Z" fill="none" stroke="#f0553b" stroke-width="1.5"/>
<path d="M184.23 391.06L186.73 393.96L184.23 396.86L181.73 393.96Z" fill="none" stroke="#f0553b" stroke-width="1.5"/>
<path d="M203.39 391.06L205.89 393.96L203.39 396.86L200.89 393.96Z" fill="none" stroke="#f0553b" stroke-width="1.5"/>
<path d="M222.56 391.06L225.06 393.96L222.56 396.86L220.06 393.96Z" fill="none" stroke="#f0553b" stroke-width="1.5"/>
<polyline points="37.3,393.96 50.08,393.96 69.24,393.96 88.41,393.96 107.57,393.96 126.74,393.96 145.9,393.96 165.06,393.96 184.23,393.96 203.39,393.96 222.56,393.96" fill="none" stroke="#f7a51c" stroke-width="1.5" stroke-dasharray="5.5 3.5"/>
<circle cx="37.3" cy="393.96" r="2.4" fill="none" stroke="#f7a51c" stroke-width="1.5"/>
<circle cx="50.08" cy="393.96" r="2.4" fill="none" stroke="#f7a51c" stroke-width="1.5"/>
<circle cx="69.24" cy="393.96" r="2.4" fill="none" stroke="#f7a51c" stroke-width="1.5"/>
<circle cx="88.41" cy="393.96" r="2.4" fill="none" stroke="#f7a51c" stroke-width="1.5"/>
<circle cx="107.57" cy="393.96" r="2.4" fill="none" stroke="#f7a51c" stroke-width="1.5"/>
<circle cx="126.74" cy="393.96" r="2.4" fill="none" stroke="#f7a51c" stroke-width="1.5"/>
<circle cx="145.9" cy="393.96" r="2.4" fill="none" stroke="#f7a51c" stroke-width="1.5"/>
<circle cx="165.06" cy="393.96" r="2.4" fill="none" stroke="#f7a51c" stroke-width="1.5"/>
<circle cx="184.23" cy="393.96" r="2.4" fill="none" stroke="#f7a51c" stroke-width="1.5"/>
<circle cx="203.39" cy="393.96" r="2.4" fill="none" stroke="#f7a51c" stroke-width="1.5"/>
<circle cx="222.56" cy="393.96" r="2.4" fill="none" stroke="#f7a51c" stroke-width="1.5"/>
<polyline points="37.3,393.96 50.08,393.96 69.24,393.96 88.41,393.96 107.57,393.96 126.74,393.96 145.9,393.96 165.06,393.96 184.23,393.96 203.39,393.96 222.56,393.96" fill="none" stroke="#1a9aa8" stroke-width="1.5" stroke-dasharray="5 2 1.5 2"/>
<rect x="35.35" y="392.01" width="3.9" height="3.9" fill="none" stroke="#1a9aa8" stroke-width="1.5"/>
<rect x="48.13" y="392.01" width="3.9" height="3.9" fill="none" stroke="#1a9aa8" stroke-width="1.5"/>
<rect x="67.29" y="392.01" width="3.9" height="3.9" fill="none" stroke="#1a9aa8" stroke-width="1.5"/>
<rect x="86.46" y="392.01" width="3.9" height="3.9" fill="none" stroke="#1a9aa8" stroke-width="1.5"/>
<rect x="105.62" y="392.01" width="3.9" height="3.9" fill="none" stroke="#1a9aa8" stroke-width="1.5"/>
<rect x="124.79" y="392.01" width="3.9" height="3.9" fill="none" stroke="#1a9aa8" stroke-width="1.5"/>
<rect x="143.95" y="392.01" width="3.9" height="3.9" fill="none" stroke="#1a9aa8" stroke-width="1.5"/>
<rect x="163.11" y="392.01" width="3.9" height="3.9" fill="none" stroke="#1a9aa8" stroke-width="1.5"/>
<rect x="182.28" y="392.01" width="3.9" height="3.9" fill="none" stroke="#1a9aa8" stroke-width="1.5"/>
<rect x="201.44" y="392.01" width="3.9" height="3.9" fill="none" stroke="#1a9aa8" stroke-width="1.5"/>
<rect x="220.61" y="392.01" width="3.9" height="3.9" fill="none" stroke="#1a9aa8" stroke-width="1.5"/>
<polyline points="37.3,393.96 50.08,393.96 69.24,393.96 88.41,393.96 107.57,393.96 126.74,393.96 145.9,393.96 165.06,393.96 184.23,393.96 203.39,393.96 222.56,393.96" fill="none" stroke="#4a2a2c" stroke-width="1.6"/>
<path d="M37.3 390.56L40.4 396.26L34.2 396.26Z" fill="none" stroke="#4a2a2c" stroke-width="1.5" stroke-linejoin="miter"/>
<path d="M50.08 390.56L53.18 396.26L46.98 396.26Z" fill="none" stroke="#4a2a2c" stroke-width="1.5" stroke-linejoin="miter"/>
<path d="M69.24 390.56L72.34 396.26L66.14 396.26Z" fill="none" stroke="#4a2a2c" stroke-width="1.5" stroke-linejoin="miter"/>
<path d="M88.41 390.56L91.51 396.26L85.31 396.26Z" fill="none" stroke="#4a2a2c" stroke-width="1.5" stroke-linejoin="miter"/>
<path d="M107.57 390.56L110.67 396.26L104.47 396.26Z" fill="none" stroke="#4a2a2c" stroke-width="1.5" stroke-linejoin="miter"/>
<path d="M126.74 390.56L129.84 396.26L123.64 396.26Z" fill="none" stroke="#4a2a2c" stroke-width="1.5" stroke-linejoin="miter"/>
<path d="M145.9 390.56L149 396.26L142.8 396.26Z" fill="none" stroke="#4a2a2c" stroke-width="1.5" stroke-linejoin="miter"/>
<path d="M165.06 390.56L168.16 396.26L161.96 396.26Z" fill="none" stroke="#4a2a2c" stroke-width="1.5" stroke-linejoin="miter"/>
<path d="M184.23 390.56L187.33 396.26L181.13 396.26Z" fill="none" stroke="#4a2a2c" stroke-width="1.5" stroke-linejoin="miter"/>
<path d="M203.39 390.56L206.49 396.26L200.29 396.26Z" fill="none" stroke="#4a2a2c" stroke-width="1.5" stroke-linejoin="miter"/>
<path d="M222.56 390.56L225.66 396.26L219.46 396.26Z" fill="none" stroke="#4a2a2c" stroke-width="1.5" stroke-linejoin="miter"/>
<rect x="37.3" y="390.3" width="217.2" height="76.9" fill="none" stroke="#939393" stroke-width="1.0"/>
<path d="M37.3 467.2v-2M37.3 390.3v2M62.85 467.2v-2M62.85 390.3v2M94.79 467.2v-2M94.79 390.3v2M126.74 467.2v-2M126.74 390.3v2M158.68 467.2v-2M158.68 390.3v2M190.62 467.2v-2M190.62 390.3v2M222.56 467.2v-2M222.56 390.3v2M254.5 467.2v-2M254.5 390.3v2M37.3 467.2h2M254.5 467.2h-2M37.3 430.58h2M254.5 430.58h-2M37.3 393.96h2M254.5 393.96h-2" stroke="#939393" stroke-width="1" fill="none"/>
<text class="t" x="37.3" y="480.8" font-size="9.3" text-anchor="middle" fill="#262626">1</text>
<text class="t" x="62.85" y="480.8" font-size="9.3" text-anchor="middle" fill="#262626">5</text>
<text class="t" x="94.79" y="480.8" font-size="9.3" text-anchor="middle" fill="#262626">10</text>
<text class="t" x="126.74" y="480.8" font-size="9.3" text-anchor="middle" fill="#262626">15</text>
<text class="t" x="158.68" y="480.8" font-size="9.3" text-anchor="middle" fill="#262626">20</text>
<text class="t" x="190.62" y="480.8" font-size="9.3" text-anchor="middle" fill="#262626">25</text>
<text class="t" x="222.56" y="480.8" font-size="9.3" text-anchor="middle" fill="#262626">30</text>
<text class="t" x="254.5" y="480.8" font-size="9.3" text-anchor="middle" fill="#262626">35</text>
<text class="t" x="33.5" y="470.8" font-size="9.3" text-anchor="end" fill="#262626">0</text>
<text class="t" x="33.5" y="434.18" font-size="9.3" text-anchor="end" fill="#262626">50</text>
<text class="t" x="33.5" y="397.56" font-size="9.3" text-anchor="end" fill="#262626">100</text>
<text x="145.9" y="387.1" font-size="10.9" text-anchor="middle" fill="#262626">Success rate</text>
<text x="145.9" y="493.8" font-size="10" text-anchor="middle" fill="#262626">Number of UAVs</text>
<text x="13.8" y="428.75" font-size="10" text-anchor="middle" fill="#262626" transform="rotate(-90 13.8 428.75)">PCT(%)</text>
<path d="M342.95 390.3V467.2M367.63 390.3V467.2M392.31 390.3V467.2M416.99 390.3V467.2M441.67 390.3V467.2M466.35 390.3V467.2M491.04 390.3V467.2M515.72 390.3V467.2M323.2 430.58H540.4M323.2 393.96H540.4" stroke="#ebebeb" stroke-width="0.8" fill="none"/>
<polyline points="323.2,393.96 338.01,393.96 357.75,393.96 377.5,393.96 397.25,393.96 416.99,393.96 436.74,393.96 456.48,393.96 476.23,393.96 495.97,393.96 515.72,393.96" fill="none" stroke="#f0553b" stroke-width="1.5" stroke-dasharray="1.2 1.6"/>
<path d="M323.2 391.06L325.7 393.96L323.2 396.86L320.7 393.96Z" fill="none" stroke="#f0553b" stroke-width="1.5"/>
<path d="M338.01 391.06L340.51 393.96L338.01 396.86L335.51 393.96Z" fill="none" stroke="#f0553b" stroke-width="1.5"/>
<path d="M357.75 391.06L360.25 393.96L357.75 396.86L355.25 393.96Z" fill="none" stroke="#f0553b" stroke-width="1.5"/>
<path d="M377.5 391.06L380 393.96L377.5 396.86L375 393.96Z" fill="none" stroke="#f0553b" stroke-width="1.5"/>
<path d="M397.25 391.06L399.75 393.96L397.25 396.86L394.75 393.96Z" fill="none" stroke="#f0553b" stroke-width="1.5"/>
<path d="M416.99 391.06L419.49 393.96L416.99 396.86L414.49 393.96Z" fill="none" stroke="#f0553b" stroke-width="1.5"/>
<path d="M436.74 391.06L439.24 393.96L436.74 396.86L434.24 393.96Z" fill="none" stroke="#f0553b" stroke-width="1.5"/>
<path d="M456.48 391.06L458.98 393.96L456.48 396.86L453.98 393.96Z" fill="none" stroke="#f0553b" stroke-width="1.5"/>
<path d="M476.23 391.06L478.73 393.96L476.23 396.86L473.73 393.96Z" fill="none" stroke="#f0553b" stroke-width="1.5"/>
<path d="M495.97 391.06L498.47 393.96L495.97 396.86L493.47 393.96Z" fill="none" stroke="#f0553b" stroke-width="1.5"/>
<path d="M515.72 391.06L518.22 393.96L515.72 396.86L513.22 393.96Z" fill="none" stroke="#f0553b" stroke-width="1.5"/>
<polyline points="323.2,393.96 338.01,393.96 357.75,393.96 377.5,393.96 397.25,393.96 416.99,393.96 436.74,393.96 456.48,393.96 476.23,393.96 495.97,393.96 515.72,393.96" fill="none" stroke="#f7a51c" stroke-width="1.5" stroke-dasharray="5.5 3.5"/>
<circle cx="323.2" cy="393.96" r="2.4" fill="none" stroke="#f7a51c" stroke-width="1.5"/>
<circle cx="338.01" cy="393.96" r="2.4" fill="none" stroke="#f7a51c" stroke-width="1.5"/>
<circle cx="357.75" cy="393.96" r="2.4" fill="none" stroke="#f7a51c" stroke-width="1.5"/>
<circle cx="377.5" cy="393.96" r="2.4" fill="none" stroke="#f7a51c" stroke-width="1.5"/>
<circle cx="397.25" cy="393.96" r="2.4" fill="none" stroke="#f7a51c" stroke-width="1.5"/>
<circle cx="416.99" cy="393.96" r="2.4" fill="none" stroke="#f7a51c" stroke-width="1.5"/>
<circle cx="436.74" cy="393.96" r="2.4" fill="none" stroke="#f7a51c" stroke-width="1.5"/>
<circle cx="456.48" cy="393.96" r="2.4" fill="none" stroke="#f7a51c" stroke-width="1.5"/>
<circle cx="476.23" cy="393.96" r="2.4" fill="none" stroke="#f7a51c" stroke-width="1.5"/>
<circle cx="495.97" cy="393.96" r="2.4" fill="none" stroke="#f7a51c" stroke-width="1.5"/>
<circle cx="515.72" cy="393.96" r="2.4" fill="none" stroke="#f7a51c" stroke-width="1.5"/>
<polyline points="323.2,393.96 338.01,393.96 357.75,393.96 377.5,393.96 397.25,393.96 416.99,393.96 436.74,393.96 456.48,393.96 476.23,393.96 495.97,393.96 515.72,393.96" fill="none" stroke="#1a9aa8" stroke-width="1.5" stroke-dasharray="5 2 1.5 2"/>
<rect x="321.25" y="392.01" width="3.9" height="3.9" fill="none" stroke="#1a9aa8" stroke-width="1.5"/>
<rect x="336.06" y="392.01" width="3.9" height="3.9" fill="none" stroke="#1a9aa8" stroke-width="1.5"/>
<rect x="355.8" y="392.01" width="3.9" height="3.9" fill="none" stroke="#1a9aa8" stroke-width="1.5"/>
<rect x="375.55" y="392.01" width="3.9" height="3.9" fill="none" stroke="#1a9aa8" stroke-width="1.5"/>
<rect x="395.3" y="392.01" width="3.9" height="3.9" fill="none" stroke="#1a9aa8" stroke-width="1.5"/>
<rect x="415.04" y="392.01" width="3.9" height="3.9" fill="none" stroke="#1a9aa8" stroke-width="1.5"/>
<rect x="434.79" y="392.01" width="3.9" height="3.9" fill="none" stroke="#1a9aa8" stroke-width="1.5"/>
<rect x="454.53" y="392.01" width="3.9" height="3.9" fill="none" stroke="#1a9aa8" stroke-width="1.5"/>
<rect x="474.28" y="392.01" width="3.9" height="3.9" fill="none" stroke="#1a9aa8" stroke-width="1.5"/>
<rect x="494.02" y="392.01" width="3.9" height="3.9" fill="none" stroke="#1a9aa8" stroke-width="1.5"/>
<rect x="513.77" y="392.01" width="3.9" height="3.9" fill="none" stroke="#1a9aa8" stroke-width="1.5"/>
<polyline points="323.2,393.96 338.01,393.96 357.75,393.96 377.5,393.96 397.25,393.96 416.99,393.96 436.74,393.96 456.48,393.96 476.23,393.96 495.97,393.96 515.72,393.96" fill="none" stroke="#4a2a2c" stroke-width="1.6"/>
<path d="M323.2 390.56L326.3 396.26L320.1 396.26Z" fill="none" stroke="#4a2a2c" stroke-width="1.5" stroke-linejoin="miter"/>
<path d="M338.01 390.56L341.11 396.26L334.91 396.26Z" fill="none" stroke="#4a2a2c" stroke-width="1.5" stroke-linejoin="miter"/>
<path d="M357.75 390.56L360.85 396.26L354.65 396.26Z" fill="none" stroke="#4a2a2c" stroke-width="1.5" stroke-linejoin="miter"/>
<path d="M377.5 390.56L380.6 396.26L374.4 396.26Z" fill="none" stroke="#4a2a2c" stroke-width="1.5" stroke-linejoin="miter"/>
<path d="M397.25 390.56L400.35 396.26L394.15 396.26Z" fill="none" stroke="#4a2a2c" stroke-width="1.5" stroke-linejoin="miter"/>
<path d="M416.99 390.56L420.09 396.26L413.89 396.26Z" fill="none" stroke="#4a2a2c" stroke-width="1.5" stroke-linejoin="miter"/>
<path d="M436.74 390.56L439.84 396.26L433.64 396.26Z" fill="none" stroke="#4a2a2c" stroke-width="1.5" stroke-linejoin="miter"/>
<path d="M456.48 390.56L459.58 396.26L453.38 396.26Z" fill="none" stroke="#4a2a2c" stroke-width="1.5" stroke-linejoin="miter"/>
<path d="M476.23 390.56L479.33 396.26L473.13 396.26Z" fill="none" stroke="#4a2a2c" stroke-width="1.5" stroke-linejoin="miter"/>
<path d="M495.97 390.56L499.07 396.26L492.87 396.26Z" fill="none" stroke="#4a2a2c" stroke-width="1.5" stroke-linejoin="miter"/>
<path d="M515.72 390.56L518.82 396.26L512.62 396.26Z" fill="none" stroke="#4a2a2c" stroke-width="1.5" stroke-linejoin="miter"/>
<rect x="323.2" y="390.3" width="217.2" height="76.9" fill="none" stroke="#939393" stroke-width="1.0"/>
<path d="M323.2 467.2v-2M323.2 390.3v2M342.95 467.2v-2M342.95 390.3v2M367.63 467.2v-2M367.63 390.3v2M392.31 467.2v-2M392.31 390.3v2M416.99 467.2v-2M416.99 390.3v2M441.67 467.2v-2M441.67 390.3v2M466.35 467.2v-2M466.35 390.3v2M491.04 467.2v-2M491.04 390.3v2M515.72 467.2v-2M515.72 390.3v2M540.4 467.2v-2M540.4 390.3v2M323.2 467.2h2M540.4 467.2h-2M323.2 430.58h2M540.4 430.58h-2M323.2 393.96h2M540.4 393.96h-2" stroke="#939393" stroke-width="1" fill="none"/>
<text class="t" x="323.2" y="480.8" font-size="9.3" text-anchor="middle" fill="#262626">1</text>
<text class="t" x="342.95" y="480.8" font-size="9.3" text-anchor="middle" fill="#262626">5</text>
<text class="t" x="367.63" y="480.8" font-size="9.3" text-anchor="middle" fill="#262626">10</text>
<text class="t" x="392.31" y="480.8" font-size="9.3" text-anchor="middle" fill="#262626">15</text>
<text class="t" x="416.99" y="480.8" font-size="9.3" text-anchor="middle" fill="#262626">20</text>
<text class="t" x="441.67" y="480.8" font-size="9.3" text-anchor="middle" fill="#262626">25</text>
<text class="t" x="466.35" y="480.8" font-size="9.3" text-anchor="middle" fill="#262626">30</text>
<text class="t" x="491.04" y="480.8" font-size="9.3" text-anchor="middle" fill="#262626">35</text>
<text class="t" x="515.72" y="480.8" font-size="9.3" text-anchor="middle" fill="#262626">40</text>
<text class="t" x="540.4" y="480.8" font-size="9.3" text-anchor="middle" fill="#262626">45</text>
<text class="t" x="319.4" y="470.8" font-size="9.3" text-anchor="end" fill="#262626">0</text>
<text class="t" x="319.4" y="434.18" font-size="9.3" text-anchor="end" fill="#262626">50</text>
<text class="t" x="319.4" y="397.56" font-size="9.3" text-anchor="end" fill="#262626">100</text>
<text x="431.8" y="387.1" font-size="10.9" text-anchor="middle" fill="#262626">Success rate</text>
<text x="431.8" y="493.8" font-size="10" text-anchor="middle" fill="#262626">Number of UAVs</text>
<text x="299.3" y="428.75" font-size="10" text-anchor="middle" fill="#262626" transform="rotate(-90 299.3 428.75)">PCT(%)</text>
<text x="146" y="507.6" font-size="10.6" text-anchor="middle" fill="#262626">(1)</text>
<text x="431.6" y="507.6" font-size="10.6" text-anchor="middle" fill="#262626">(2)</text>
<rect x="123.7" y="516.8" width="323.6" height="16.6" fill="#fff" stroke="#939393" stroke-width="1.1"/>
<path d="M126.3 525.0H146.3" stroke="#f0553b" stroke-width="1.3" stroke-dasharray="1.2 1.6" fill="none"/>
<path d="M136.5 521.75L139.3 525L136.5 528.25L133.7 525Z" fill="none" stroke="#f0553b" stroke-width="1.5"/>
<text x="149.2" y="529.2" font-size="11" text-anchor="start" fill="#262626">DH-ADRPP</text>
<path d="M208.8 525.0H226.5" stroke="#f7a51c" stroke-width="1.3" stroke-dasharray="5.5 3.5" fill="none"/>
<circle cx="219" cy="525" r="2.69" fill="none" stroke="#f7a51c" stroke-width="1.5"/>
<text x="231.3" y="529.2" font-size="11" text-anchor="start" fill="#262626">ADRPP</text>
<path d="M272 525.0H292" stroke="#1a9aa8" stroke-width="1.3" stroke-dasharray="5 2 1.5 2" fill="none"/>
<rect x="279.62" y="522.82" width="4.37" height="4.37" fill="none" stroke="#1a9aa8" stroke-width="1.5"/>
<text x="294.8" y="529.2" font-size="11" text-anchor="start" fill="#262626">CH-ADRPP</text>
<path d="M355 525.0H375" stroke="#4a2a2c" stroke-width="1.3" fill="none"/>
<path d="M365.2 521.19L368.67 527.58L361.73 527.58Z" fill="none" stroke="#4a2a2c" stroke-width="1.5" stroke-linejoin="miter"/>
<text x="377.5" y="529.2" font-size="11" text-anchor="start" fill="#262626">HDP-TSRRT*</text>
</svg>
</body></html>
